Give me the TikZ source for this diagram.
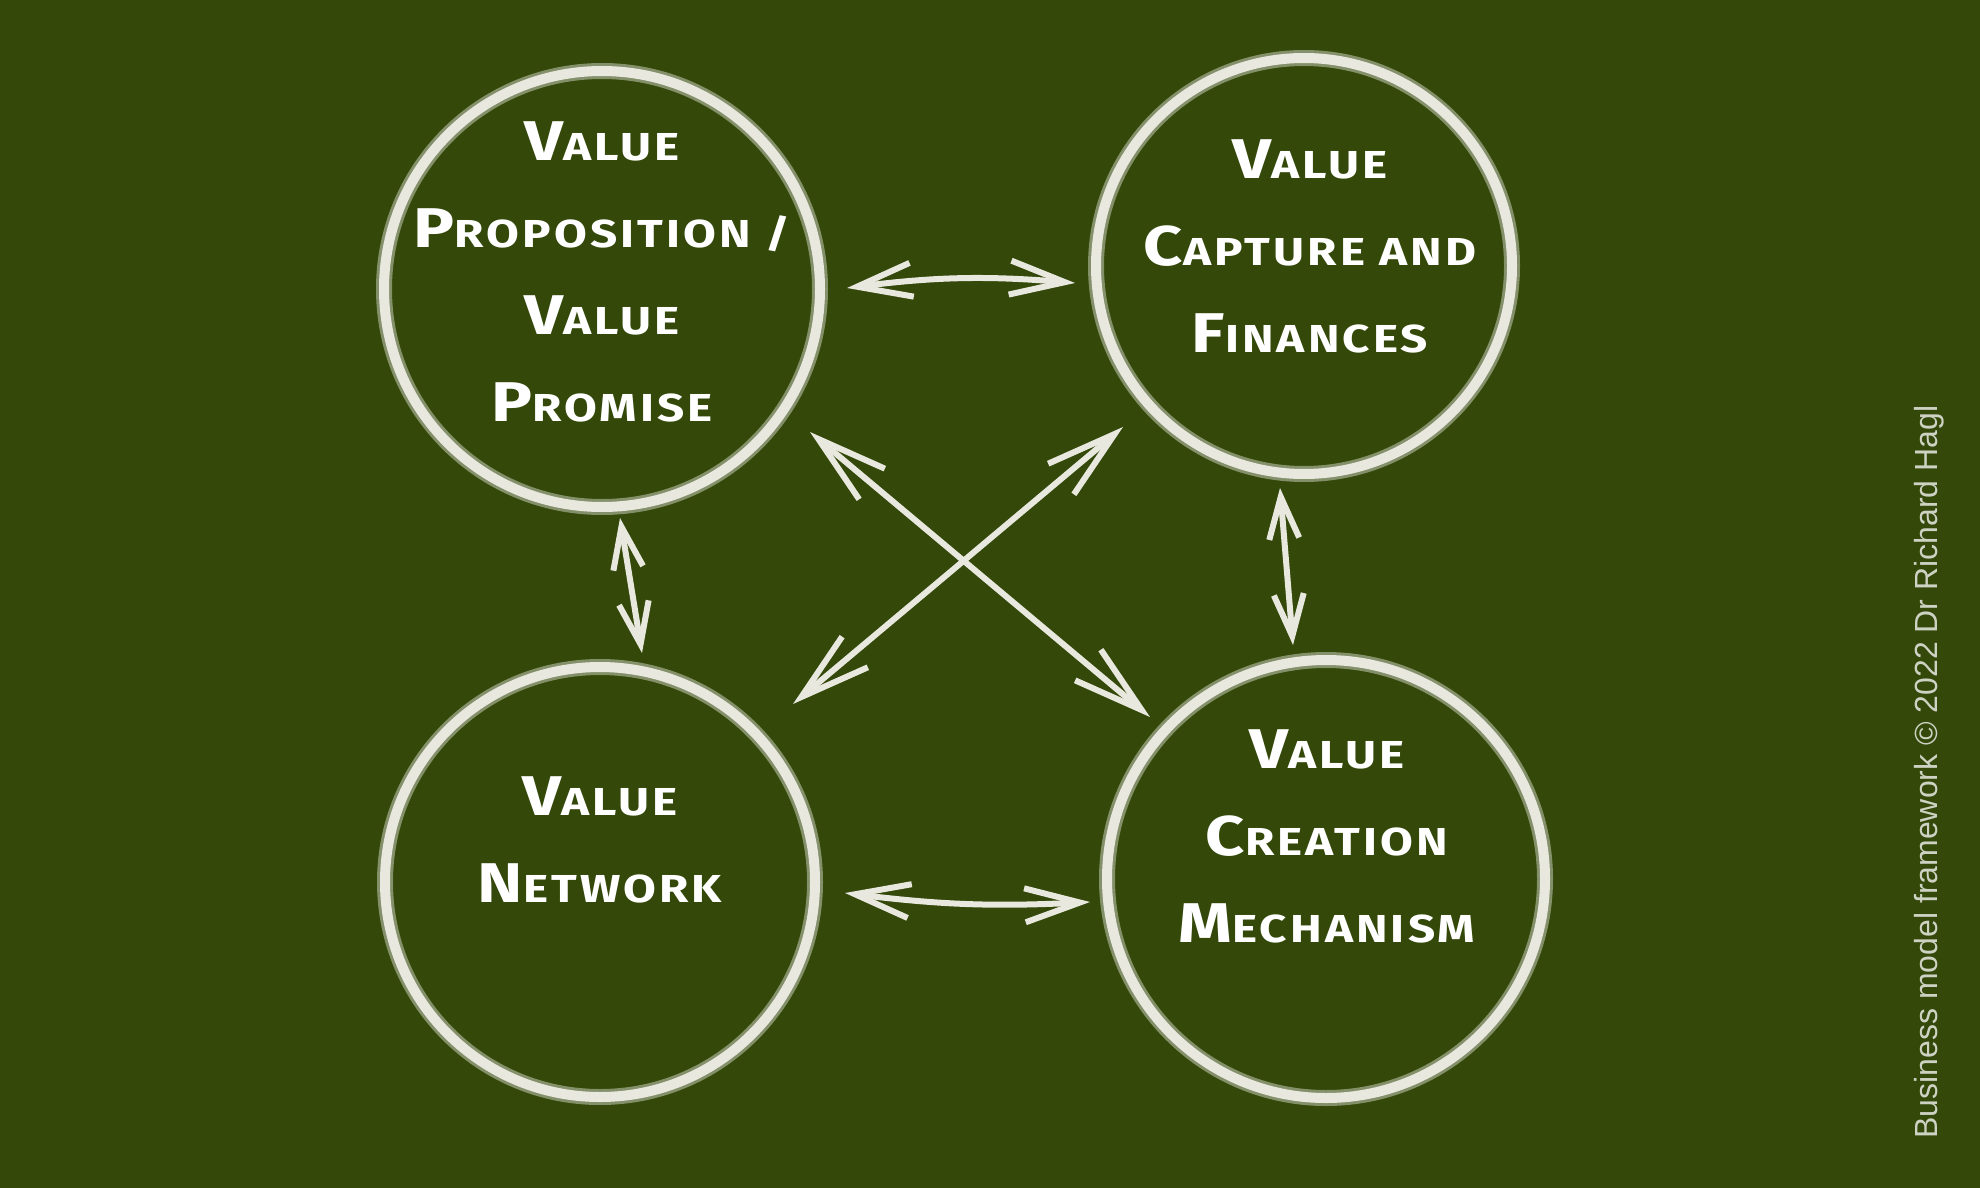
\documentclass[tikz,border=0pt]{standalone}
\usepackage{fontspec}
\usetikzlibrary{arrows.meta}
\newfontfamily\handfont{Fira Sans}[FakeStretch=1.22,LetterSpace=8]
\newfontfamily\copyfont{Liberation Sans}
\definecolor{board}{RGB}{51,72,9}
\definecolor{chalk}{RGB}{232,232,222}
\definecolor{copyc}{RGB}{205,210,195}
\newcommand\Bg[1]{{\fontsize{56}{87}\selectfont #1}}
\tikzset{
  chalkhalo/.style={circle, draw=chalk, draw opacity=0.45, line width=16pt, inner sep=0pt},
  chalkring/.style={circle, draw=chalk, line width=10pt, inner sep=0pt},
  chalktext/.style={text=white, align=center, font=\handfont\bfseries\fontsize{39}{87}\selectfont},
  chalkarrow/.style={draw=chalk, line width=6pt, line cap=round,
     {Straight Barb[length=55pt,width=34pt]}-{Straight Barb[length=55pt,width=34pt]}},
  chalkarrowlong/.style={draw=chalk, line width=6pt, line cap=round,
     {Straight Barb[length=70pt,width=40pt]}-{Straight Barb[length=70pt,width=40pt]}},
  chalkarrowshort/.style={draw=chalk, line width=6pt, line cap=round,
     {Straight Barb[length=42pt,width=30pt]}-{Straight Barb[length=42pt,width=30pt]}},
}
\begin{document}
\begin{tikzpicture}[x=1pt,y=1pt]
\fill[board] (0,0) rectangle (1980,-1188);
\useasboundingbox (0,0) rectangle (1980,-1188);
% circles (soft chalk edge + bright core)
\node[chalkhalo, minimum size=436pt] (tlh) at (602,-289) {};
\node[chalkhalo, minimum size=416pt] (trh) at (1304,-266) {};
\node[chalkhalo, minimum size=430pt] (blh) at (600,-882) {};
\node[chalkhalo, minimum size=438pt] (brh) at (1326,-879) {};
\node[chalkring, minimum size=436pt] (tl) at (tlh.center) {};
\node[chalkring, minimum size=416pt] (tr) at (trh.center) {};
\node[chalkring, minimum size=430pt] (bl) at (blh.center) {};
\node[chalkring, minimum size=438pt] (br) at (brh.center) {};
% texts
\node[chalktext] (tltext) at (602,-272) {\Bg{V}ALUE\\ \Bg{P}ROPOSITION /\\ \Bg{V}ALUE\\ \Bg{P}ROMISE};
\node[chalktext] (trtext) at (1310,-246) {\Bg{V}ALUE\\ \Bg{C}APTURE AND\\ \Bg{F}INANCES};
\node[chalktext] (bltext) at (600,-840) {\Bg{V}ALUE\\ \Bg{N}ETWORK};
\node[chalktext] (brtext) at (1327,-836) {\Bg{V}ALUE\\ \Bg{C}REATION\\ \Bg{M}ECHANISM};
% arrow end points
\coordinate (a1) at (847,-288);
\coordinate (a2) at (1075,-283);
\coordinate (b1) at (845,-893);
\coordinate (b2) at (1090,-902);
\coordinate (d1) at (810,-432);
\coordinate (d2) at (1150,-717);
\coordinate (e1) at (793,-704);
\coordinate (e2) at (1123,-427);
\coordinate (v1) at (620,-518);
\coordinate (v2) at (642,-653);
\coordinate (w1) at (1280,-488);
\coordinate (w2) at (1293,-645);
% arrows
\draw[chalkarrow] (a1) to[bend left=6] (a2);
\draw[chalkarrow] (b1) to[bend right=5] (b2);
\draw[chalkarrowlong] (d1) -- (d2);
\draw[chalkarrowlong] (e1) -- (e2);
\draw[chalkarrowshort] (v1) -- (v2);
\draw[chalkarrowshort] (w1) -- (w2);
% copyright
\node[rotate=90, text=copyc, font=\copyfont\fontsize{32}{38}\selectfont] (copy) at (1929,-772) {Business model framework © 2022 Dr Richard Hagl};
\end{tikzpicture}
\end{document}
